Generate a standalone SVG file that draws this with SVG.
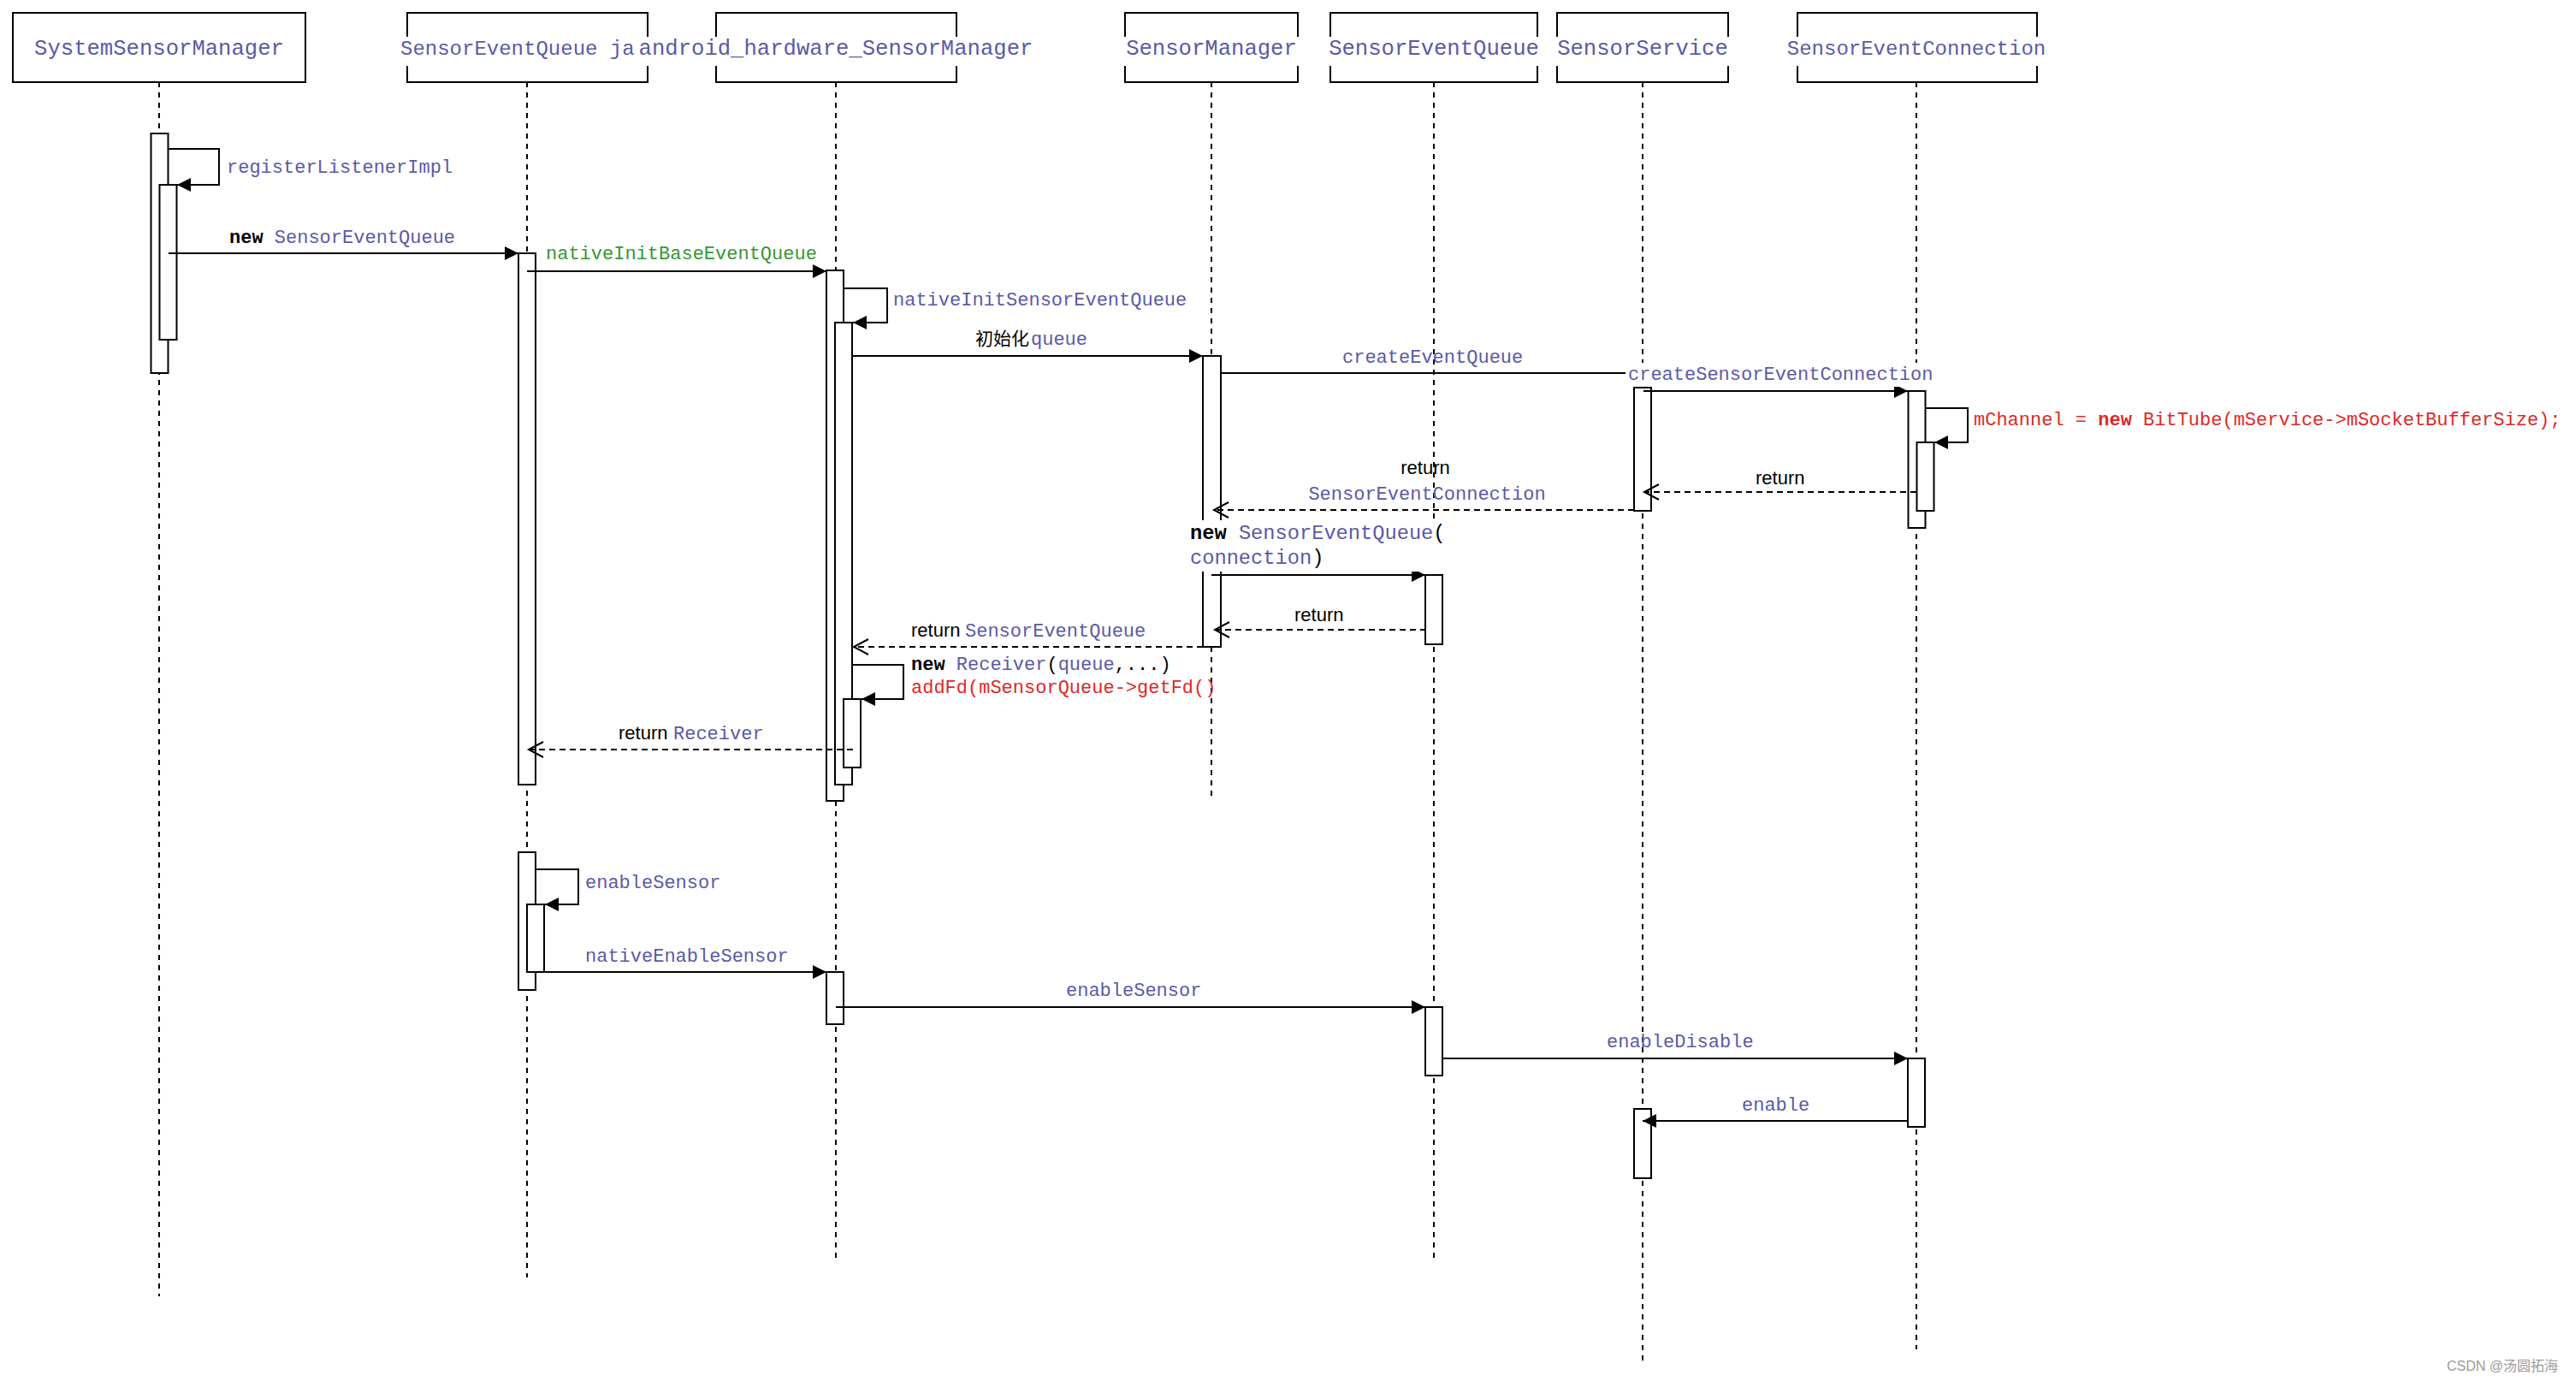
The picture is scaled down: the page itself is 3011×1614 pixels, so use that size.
<svg xmlns="http://www.w3.org/2000/svg" width="3011" height="1614" viewBox="0 0 3011 1614">
<defs>
<marker id="block" markerUnits="userSpaceOnUse" markerWidth="18" markerHeight="18" refX="16" refY="8" orient="auto"><path d="M0,0 L16,8 L0,16 Z" fill="#000"/></marker>
<marker id="open" markerUnits="userSpaceOnUse" markerWidth="22" markerHeight="22" refX="18" refY="10" orient="auto"><path d="M1,1 L18,10 L1,19" fill="none" stroke="#000" stroke-width="2"/></marker>
<style>
.hdr{fill:#fff;stroke:#000;stroke-width:2}
.life{stroke:#000;stroke-width:2;stroke-dasharray:6 6;fill:none}
.act{fill:#fff;stroke:#000;stroke-width:2}
.msg{fill:none;stroke:#000;stroke-width:2;marker-end:url(#block)}
.ret{fill:none;stroke:#000;stroke-width:2;stroke-dasharray:7 5;marker-end:url(#open)}
.mono{font-family:"Liberation Mono","Courier New",monospace;font-size:22px}
.ht{font-family:"Liberation Mono","Courier New",monospace;font-size:25.6px;fill:#5a5aa8;text-anchor:middle}
.b{fill:#5a5aa8}
.k{fill:#000}
.bold{font-weight:bold}
.r{fill:#e02828}
.g{fill:#339933}
.sans{font-family:"Liberation Sans",Arial,sans-serif;font-size:22px;fill:#000}
.cjk{font-family:"Noto Sans CJK SC","Liberation Sans",sans-serif;font-size:21px;fill:#000}
.bg{fill:#fff}
</style>
</defs>
<rect width="3011" height="1614" fill="#fff"/>

<g id="node-SystemSensorManager">
<rect class="hdr" x="15" y="15" width="342" height="81"/>
<line class="life" x1="186" y1="96" x2="186" y2="1515"/>
<rect class="act" x="176.5" y="156" width="20" height="280"/>
<rect class="act" x="186.5" y="216" width="20" height="181"/>
<text class="ht" x="186" y="64">SystemSensorManager</text>
</g>

<g id="node-SensorEventQueueJava">
<rect class="hdr" x="476" y="15" width="281" height="81"/>
<line class="life" x1="616" y1="96" x2="616" y2="1493"/>
<rect class="act" x="606" y="296" width="20" height="621"/>
<rect class="act" x="606" y="996" width="20" height="161"/>
<rect class="act" x="616" y="1057" width="20" height="79"/>
<rect class="bg" x="462" y="43" width="285" height="34"/>
<text class="ht" style="font-size:24px;text-anchor:start" x="468" y="64">SensorEventQueue ja</text>
</g>

<g id="node-android_hardware_SensorManager">
<rect class="hdr" x="837" y="15" width="281" height="81"/>
<line class="life" x1="977" y1="96" x2="977" y2="1470"/>
<rect class="act" x="966" y="316" width="20" height="620"/>
<rect class="act" x="976" y="377" width="20" height="540"/>
<rect class="act" x="986" y="817" width="20" height="80"/>
<rect class="act" x="966" y="1136" width="20" height="61"/>
<rect class="bg" x="743" y="43" width="468" height="34"/>
<text class="ht" x="977" y="64">android_hardware_SensorManager</text>
</g>

<g id="node-SensorManager">
<rect class="hdr" x="1315" y="15" width="202" height="81"/>
<line class="life" x1="1416" y1="96" x2="1416" y2="930"/>
<rect class="act" x="1406" y="416" width="21" height="340"/>
<rect class="bg" x="1312" y="43" width="208" height="34"/>
<text class="ht" x="1416" y="64">SensorManager</text>
</g>

<g id="node-SensorEventQueue">
<rect class="hdr" x="1555" y="15" width="242" height="81"/>
<line class="life" x1="1676" y1="96" x2="1676" y2="1470"/>
<rect class="act" x="1666" y="672" width="20" height="81"/>
<rect class="act" x="1666" y="1177" width="20" height="80"/>
<rect class="bg" x="1552" y="43" width="248" height="34"/>
<text class="ht" x="1676" y="64">SensorEventQueue</text>
</g>

<g id="node-SensorService">
<rect class="hdr" x="1820" y="15" width="200" height="81"/>
<line class="life" x1="1920" y1="96" x2="1920" y2="1590"/>
<rect class="act" x="1910" y="453" width="20" height="144"/>
<rect class="act" x="1910" y="1296" width="20" height="81"/>
<rect class="bg" x="1817" y="43" width="206" height="34"/>
<text class="ht" x="1920" y="64">SensorService</text>
</g>

<g id="node-SensorEventConnection">
<rect class="hdr" x="2101" y="15" width="280" height="81"/>
<line class="life" x1="2240" y1="96" x2="2240" y2="1577"/>
<rect class="act" x="2230.5" y="457" width="20" height="160"/>
<rect class="act" x="2240.5" y="517" width="20" height="80"/>
<rect class="act" x="2230" y="1237" width="20" height="80"/>
<rect class="bg" x="2087" y="43" width="306" height="34"/>
<text class="ht" style="font-size:24px" x="2240" y="64">SensorEventConnection</text>
</g>

<g id="connectors">
<path class="msg" d="M196,174 H256 V216 H207"/>
<text class="mono b" x="265" y="202">registerListenerImpl</text>

<path class="msg" d="M197,296 H606"/>
<text class="mono" x="268" y="284"><tspan class="k bold">new</tspan> <tspan class="b">SensorEventQueue</tspan></text>

<path class="msg" d="M616,317 H966"/>
<text class="mono g" x="638" y="303">nativeInitBaseEventQueue</text>

<path class="msg" d="M986,337 H1037 V377 H997"/>
<text class="mono b" x="1044" y="357">nativeInitSensorEventQueue</text>

<path class="msg" d="M996,416 H1406"/>
<text x="1140" y="403"><tspan class="cjk">初始化</tspan><tspan class="mono b" x="1205">queue</tspan></text>

<path class="msg" d="M1427,436 H1918"/>
<text class="mono b" x="1569" y="424">createEventQueue</text>

<path class="msg" d="M1921,457 H2230"/>
<rect class="bg" x="1900" y="424" width="362" height="28"/>
<text class="mono b" x="1903" y="444">createSensorEventConnection</text>

<path class="msg" d="M2251,477 H2300 V517 H2261"/>
<text class="mono r" x="2307" y="497">mChannel = <tspan class="bold">new</tspan> BitTube(mService-&gt;mSocketBufferSize);</text>

<path class="ret" d="M2240,575 H1922"/>
<text class="sans" x="2052" y="566">return</text>

<path class="ret" d="M1910,596 H1419"/>
<text class="sans" x="1666" y="554" text-anchor="middle">return</text>
<text class="mono b" x="1668" y="584" text-anchor="middle">SensorEventConnection</text>

<path class="msg" d="M1416,672 H1666"/>
<rect class="bg" x="1389" y="608" width="311" height="60"/>
<text class="mono" style="font-size:23.7px" x="1391" y="630"><tspan class="k bold">new</tspan> <tspan class="b">SensorEventQueue</tspan><tspan class="k">(</tspan></text>
<text class="mono" style="font-size:23.7px" x="1391" y="659"><tspan class="b">connection</tspan><tspan class="k">)</tspan></text>

<path class="ret" d="M1667,736 H1420"/>
<text class="sans" x="1513" y="726">return</text>

<path class="ret" d="M1406,756 H998"/>
<text x="1065" y="744"><tspan class="sans">return</tspan><tspan class="mono b" x="1128">SensorEventQueue</tspan></text>

<path class="msg" d="M997,777 H1056 V817 H1007"/>
<text class="mono" x="1065" y="783"><tspan class="k bold">new</tspan> <tspan class="b">Receiver</tspan><tspan class="k">(</tspan><tspan class="b">queue</tspan><tspan class="k">,...)</tspan></text>
<text class="mono r" x="1065" y="810">addFd(mSensorQueue-&gt;getFd()</text>

<path class="ret" d="M997,876 H618"/>
<text x="723" y="864"><tspan class="sans">return</tspan><tspan class="mono b" x="787">Receiver</tspan></text>

<path class="msg" d="M626,1016 H676 V1057 H637"/>
<text class="mono b" x="684" y="1038">enableSensor</text>

<path class="msg" d="M636,1136 H966"/>
<text class="mono b" x="684" y="1124">nativeEnableSensor</text>

<path class="msg" d="M977,1177 H1666"/>
<text class="mono b" x="1246" y="1164">enableSensor</text>

<path class="msg" d="M1687,1237 H2230"/>
<text class="mono b" x="1878" y="1224">enableDisable</text>

<path class="msg" d="M2229,1310 H1920"/>
<text class="mono b" x="2036" y="1298">enable</text>
</g>

<text x="2860" y="1602" font-family="Liberation Sans, Noto Sans CJK SC, sans-serif" font-size="16" fill="#999">CSDN @汤圆拓海</text>
</svg>
